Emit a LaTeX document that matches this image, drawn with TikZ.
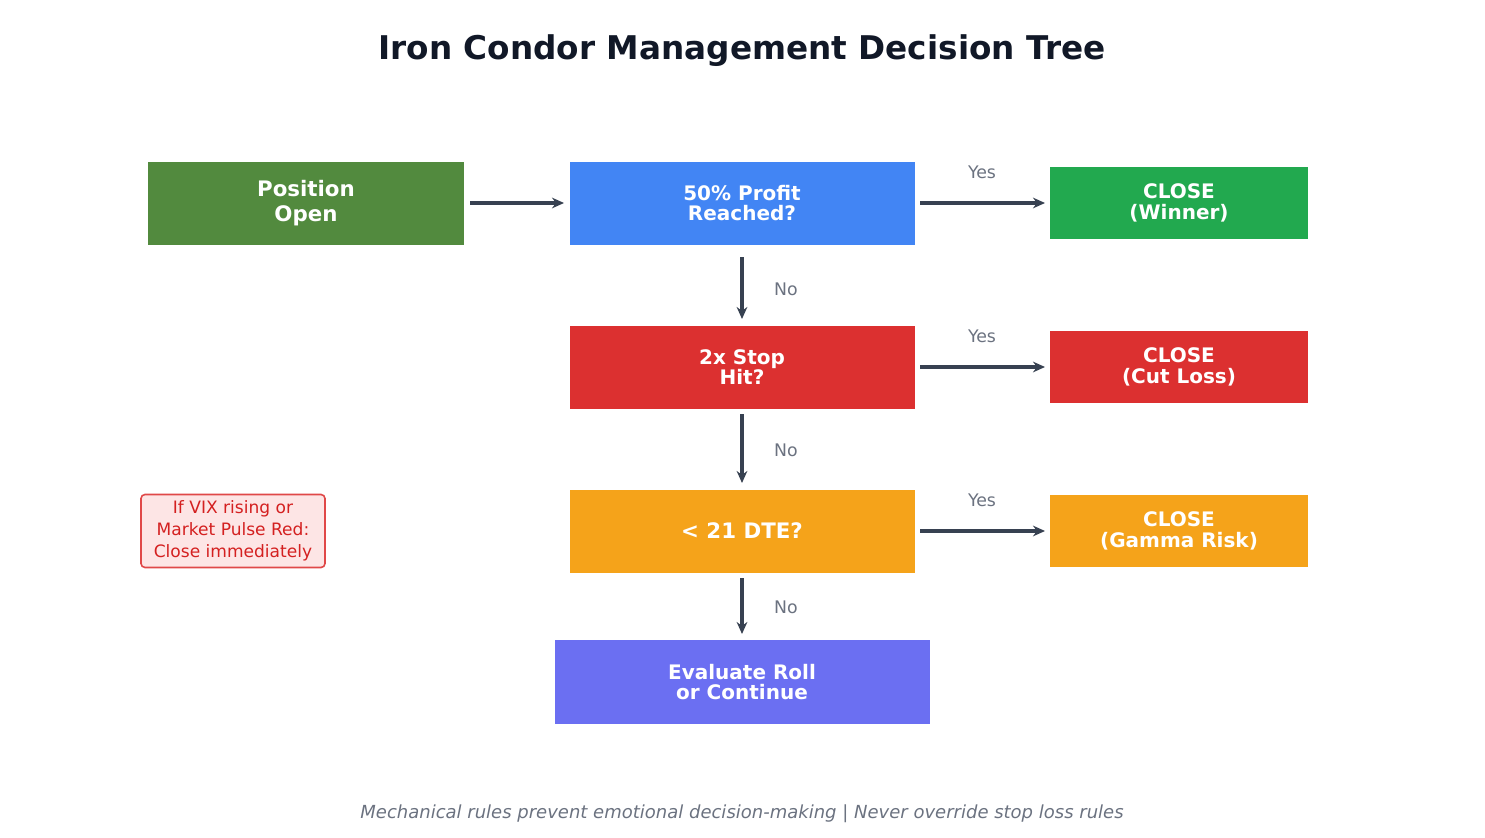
\documentclass[tikz,border=0pt]{standalone}
\usepackage{fontspec}
\setmainfont{DejaVu Sans}
\usetikzlibrary{arrows.meta}
\definecolor{cgreen}{HTML}{528A3E}
\definecolor{cblue}{HTML}{4285F4}
\definecolor{cwin}{HTML}{22A94F}
\definecolor{cred}{HTML}{DC3030}
\definecolor{corange}{HTML}{F5A31A}
\definecolor{cpurple}{HTML}{6B6FF2}
\definecolor{carrow}{HTML}{374151}
\definecolor{ctitle}{HTML}{111827}
\definecolor{cgrey}{HTML}{6B7280}
\definecolor{cnotefill}{HTML}{FDE5E5}
\definecolor{cnotedraw}{HTML}{E04848}
\definecolor{cnotetext}{HTML}{D42020}
\begin{document}
\begin{tikzpicture}[x=0.75pt,y=-0.75pt,
  box/.style={draw=white,line width=0.6pt,text=white,font=\bfseries\fontsize{15}{15.5}\selectfont,align=center,inner sep=0pt},
  arr/.style={draw=carrow,line width=2.4pt,-{Stealth[length=9pt,width=8pt]}},
  lbl/.style={text=cgrey,font=\fontsize{13}{15}\selectfont}]
\useasboundingbox (0,0) rectangle (1485,838);
\node[font=\bfseries\fontsize{24.5}{28}\selectfont,text=ctitle] (title) at (742,51) {Iron Condor Management Decision Tree};
\node[box,fill=cgreen,minimum width=317*0.75pt,minimum height=84*0.75pt,font=\bfseries\fontsize{16}{19}\selectfont] (po) at (306,203) {Position\\Open};
\node[box,fill=cblue,minimum width=346*0.75pt,minimum height=84*0.75pt] (p50) at (742,203) {50\% Profit\\Reached?};
\node[box,fill=cwin,minimum width=259*0.75pt,minimum height=73*0.75pt] (cw) at (1179,203) {CLOSE\\(Winner)};
\node[box,fill=cred,minimum width=346*0.75pt,minimum height=84*0.75pt] (st) at (742,367) {2x Stop\\Hit?};
\node[box,fill=cred,minimum width=259*0.75pt,minimum height=73*0.75pt] (cl) at (1179,367) {CLOSE\\(Cut Loss)};
\node[box,fill=corange,minimum width=346*0.75pt,minimum height=84*0.75pt,font=\bfseries\fontsize{16}{19}\selectfont] (dte) at (742,531) {< 21 DTE?};
\node[box,fill=corange,minimum width=259*0.75pt,minimum height=73*0.75pt] (cg) at (1179,531) {CLOSE\\(Gamma Risk)};
\node[box,fill=cpurple,minimum width=376*0.75pt,minimum height=85*0.75pt] (ev) at (742,682) {Evaluate Roll\\or Continue};
\node[draw=cnotedraw,fill=cnotefill,line width=1.2pt,rounded corners=3pt,text=cnotetext,align=center,font=\fontsize{12.8}{16.5}\selectfont,inner sep=3pt,minimum width=184*0.75pt,minimum height=73*0.75pt] (note) at (233,531) {If VIX rising or\\Market Pulse Red:\\Close immediately};
\coordinate (a1s) at (470,203); \coordinate (a1e) at (564,203);
\draw[arr] (a1s) -- (a1e);
\coordinate (a2s) at (920,203); \coordinate (a2e) at (1045,203);
\draw[arr] (a2s) -- (a2e);
\coordinate (a3s) at (920,367); \coordinate (a3e) at (1045,367);
\draw[arr] (a3s) -- (a3e);
\coordinate (a4s) at (920,531); \coordinate (a4e) at (1045,531);
\draw[arr] (a4s) -- (a4e);
\coordinate (v1s) at (742,257); \coordinate (v1e) at (742,319);
\draw[arr] (v1s) -- (v1e);
\coordinate (v2s) at (742,414); \coordinate (v2e) at (742,483);
\draw[arr] (v2s) -- (v2e);
\coordinate (v3s) at (742,578); \coordinate (v3e) at (742,634);
\draw[arr] (v3s) -- (v3e);
\node[lbl] (y1) at (982,172) {Yes};
\node[lbl] (y2) at (982,336) {Yes};
\node[lbl] (y3) at (982,500) {Yes};
\node[lbl] (n1) at (786,289) {No};
\node[lbl] (n2) at (786,450) {No};
\node[lbl] (n3) at (786,607) {No};
\node[text=cgrey,font=\itshape\fontsize{13.5}{16}\selectfont] (foot) at (742,814) {Mechanical rules prevent emotional decision-making | Never override stop loss rules};
\end{tikzpicture}
\end{document}
